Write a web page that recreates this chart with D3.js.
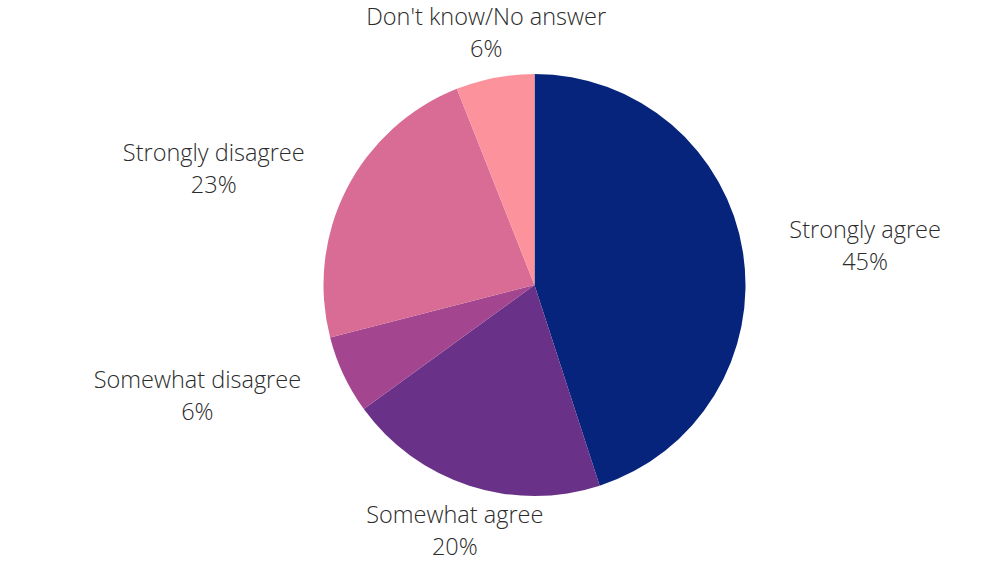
<!DOCTYPE html>
<html>
<head>
	<meta charset="utf-8">
	<title>Pie</title>
	<script src="https://cdn.jsdelivr.net/npm/d3@7"></script>
	<style>
		body { margin: 0; background: #fff; }
		#chart text {
			font-family: "Open Sans", sans-serif;
			font-weight: 300;
			font-size: 23.5px;
			fill: #2b2b2b;
		}
	</style>
</head>
<body>
	<svg id="chart" width="1000" height="563"></svg>
	<script>
		const categories = ["Strongly agree", "Somewhat agree", "Somewhat disagree", "Strongly disagree", "Don't know/No answer"];
		const values = [45, 20, 6, 23, 6];
		const colors = ["#06247c", "#6a3189", "#a3468f", "#d86c94", "#fc939c"];

		const cx = 534.5, cy = 285, radius = 211;
		const labelR = 258;

		const svg = d3.select("#chart");
		const g = svg.append("g").attr("transform", `translate(${cx},${cy})`);

		const pie = d3.pie().sort(null).value(d => d.value);
		const arc = d3.arc().innerRadius(0).outerRadius(radius);

		const slices = pie(categories.map((c, i) => ({ label: c, value: values[i], color: colors[i] })));

		g.selectAll("path")
			.data(slices)
			.enter()
			.append("path")
			.attr("d", arc)
			.attr("fill", d => d.data.color);

		const total = d3.sum(values);
		const lab = g.selectAll("g.label")
			.data(slices)
			.enter()
			.append("g")
			.attr("class", "label");

		lab.append("text")
			.attr("text-anchor", "middle")
			.attr("y", -7)
			.text(d => d.data.label);
		lab.append("text")
			.attr("text-anchor", "middle")
			.attr("y", 25)
			.text(d => Math.round(d.data.value / total * 100) + "%");

		// push side labels out by half their width so they clear the pie
		lab.attr("transform", function (d) {
			const a = (d.startAngle + d.endAngle) / 2;
			const s = Math.sin(a), c = Math.cos(a);
			const halfW = this.getBBox().width / 2;
			const k = Math.max(0, Math.min(1, (Math.abs(s) - 0.35) / 0.3));
			const x = s * labelR + Math.sign(s) * halfW * k;
			const y = -c * labelR;
			return `translate(${x},${y})`;
		});
	</script>
</body>
</html>
